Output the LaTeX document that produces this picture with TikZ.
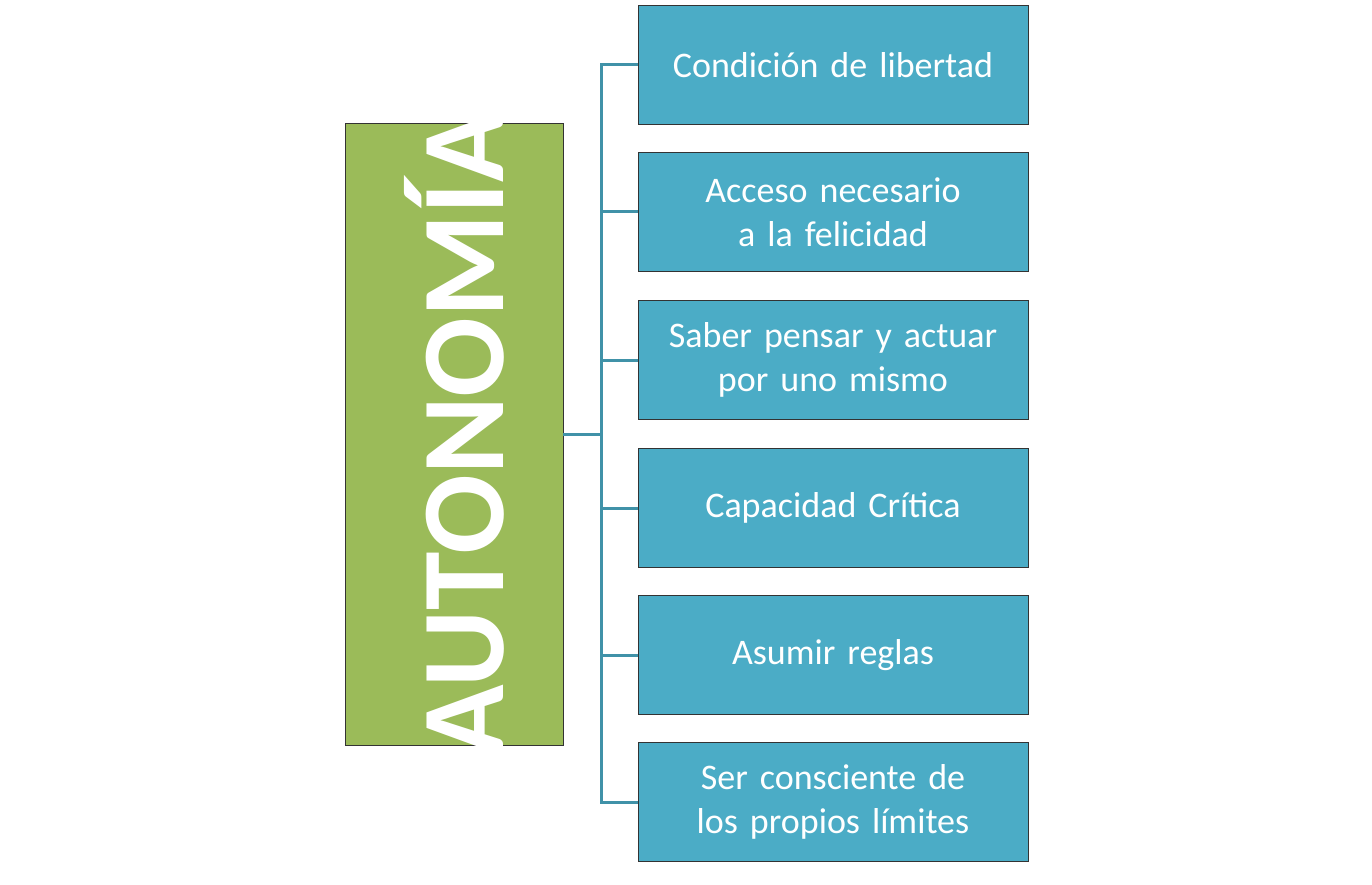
\documentclass[tikz,border=0pt]{standalone}
\usepackage{fontspec}
\setmainfont{Carlito}
\definecolor{gr}{HTML}{9BBB59}
\definecolor{bl}{HTML}{4BACC6}
\definecolor{ln}{HTML}{4BACC6}
\begin{document}
\begin{tikzpicture}[x=1pt,y=-1pt,
  item/.style={draw=black!80,line width=0.8pt,fill=bl,text=white,minimum width=390pt,minimum height=119pt,text width=370pt,align=center,font=\fontsize{36}{44}\selectfont,inner sep=0pt},
  conn/.style={draw=ln!85!black,line width=3pt}]
\useasboundingbox (0,0) rectangle (1372,885);
\node[draw=black!80,line width=0.8pt,fill=gr,minimum width=218pt,minimum height=622pt,inner sep=0pt] (a) at (454,434) {};
\node[rotate=90,text=white,font=\bfseries\fontsize{118}{118}\selectfont] (at) at (a.center) {AUTONOMÍA};
\node[item] (b1) at (833,65) {Condición de libertad};
\node[item] (b2) at (833,212) {Acceso necesario a la felicidad};
\node[item] (b3) at (833,360) {Saber pensar y actuar por uno mismo};
\node[item] (b4) at (833,508) {Capacidad Crítica};
\node[item] (b5) at (833,655) {Asumir reglas};
\node[item] (b6) at (833,802) {Ser consciente de los propios límites};
\coordinate (j) at (601,434);
\draw[conn] (a.east) -- (j);
\foreach \b in {b1,b2,b3,b4,b5,b6}{\draw[conn] (j) |- (\b.west);}
\end{tikzpicture}
\end{document}
